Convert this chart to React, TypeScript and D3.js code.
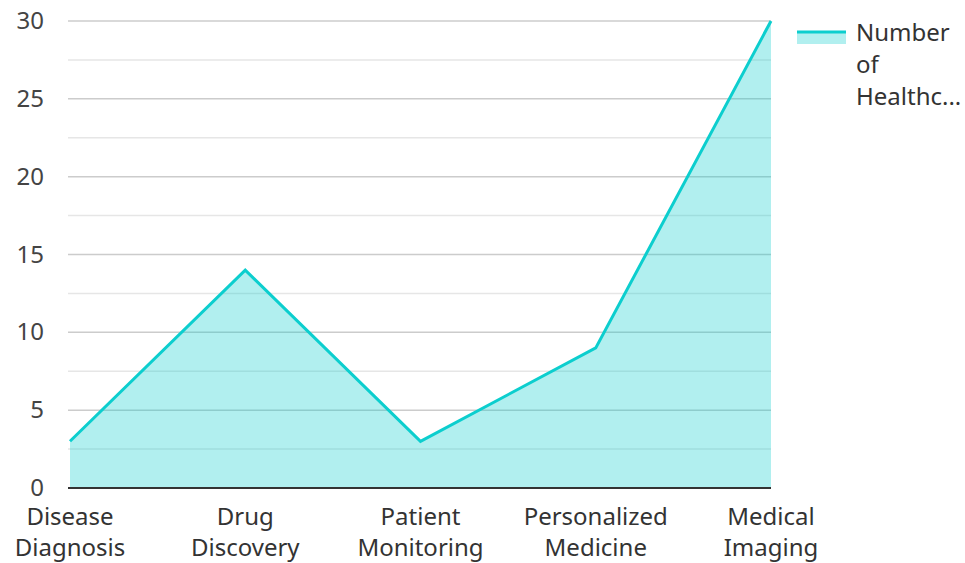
import { useEffect, useRef } from "react";
import * as d3 from "d3";

const categories = [
  ["Disease", "Diagnosis"],
  ["Drug", "Discovery"],
  ["Patient", "Monitoring"],
  ["Personalized", "Medicine"],
  ["Medical", "Imaging"],
];
const values = [3, 14, 3, 9, 30];
const yTicks = [0, 5, 10, 15, 20, 25, 30];
const minorTicks = [2.5, 7.5, 12.5, 17.5, 22.5, 27.5];
const legendLines = ["Number", "of", "Healthc..."];

const W = 965;
const H = 563;
const color = "#0ccece";
const font = "'Noto Sans', sans-serif";

export default function App() {
  const ref = useRef<SVGSVGElement>(null);

  useEffect(() => {
    if (!ref.current) return;
    const svg = d3.select(ref.current);
    svg.selectAll("*").remove();

    const left = 70;
    const right = 771;
    const top = 21;
    const bottom = 488;

    const x = d3.scalePoint<number>().domain(d3.range(values.length)).range([left, right]);
    const y = d3.scaleLinear().domain([0, 30]).range([bottom, top]);

    // grid
    svg
      .append("g")
      .selectAll("line")
      .data(minorTicks)
      .join("line")
      .attr("x1", left - 2)
      .attr("x2", right)
      .attr("y1", (d) => y(d))
      .attr("y2", (d) => y(d))
      .attr("stroke", "#e6e6e6")
      .attr("stroke-width", 1.5);
    svg
      .append("g")
      .selectAll("line")
      .data(yTicks.filter((d) => d > 0))
      .join("line")
      .attr("x1", left - 2)
      .attr("x2", right)
      .attr("y1", (d) => y(d))
      .attr("y2", (d) => y(d))
      .attr("stroke", "#cccccc")
      .attr("stroke-width", 1.5);

    const area = d3
      .area<number>()
      .x((_, i) => x(i) as number)
      .y0(y(0))
      .y1((d) => y(d));
    const line = d3
      .line<number>()
      .x((_, i) => x(i) as number)
      .y((d) => y(d));

    svg.append("path").datum(values).attr("d", area).attr("fill", color).attr("fill-opacity", 0.32);
    svg
      .append("path")
      .datum(values)
      .attr("d", line)
      .attr("fill", "none")
      .attr("stroke", color)
      .attr("stroke-width", 3)
      .attr("stroke-linejoin", "miter");

    // baseline
    svg
      .append("line")
      .attr("x1", left - 2)
      .attr("x2", right)
      .attr("y1", y(0))
      .attr("y2", y(0))
      .attr("stroke", "#333")
      .attr("stroke-width", 2);

    // y labels
    svg
      .append("g")
      .selectAll("text")
      .data(yTicks)
      .join("text")
      .attr("x", 44)
      .attr("y", (d) => y(d) + 8)
      .attr("text-anchor", "end")
      .attr("font-family", font)
      .attr("font-size", 24)
      .attr("fill", "#444")
      .text((d) => d);

    // x labels
    const xl = svg
      .append("g")
      .selectAll("text")
      .data(categories)
      .join("text")
      .attr("x", (_, i) => x(i) as number)
      .attr("text-anchor", "middle")
      .attr("font-family", font)
      .attr("font-size", 24)
      .attr("fill", "#333");
    xl.selectAll("tspan")
      .data((d) => d)
      .join("tspan")
      .attr("x", function () {
        return (this.parentNode as SVGTextElement).getAttribute("x");
      })
      .attr("y", (_, i) => 525 + i * 31)
      .text((d) => d);

    // legend
    const lg = svg.append("g");
    lg.append("rect").attr("x", 797).attr("y", 32).attr("width", 49).attr("height", 12).attr("fill", color).attr("fill-opacity", 0.32);
    lg.append("line").attr("x1", 797).attr("x2", 846).attr("y1", 32).attr("y2", 32).attr("stroke", color).attr("stroke-width", 3);
    lg.selectAll("text")
      .data(legendLines)
      .join("text")
      .attr("x", 856)
      .attr("y", (_, i) => 41 + i * 32)
      .attr("font-family", font)
      .attr("font-size", 24)
      .attr("fill", "#333")
      .text((d) => d);
  }, []);

  return (
    <svg
      ref={ref}
      width={W}
      height={H}
      style={{ position: "absolute", left: 0, top: 0, background: "#fff" }}
    />
  );
}
